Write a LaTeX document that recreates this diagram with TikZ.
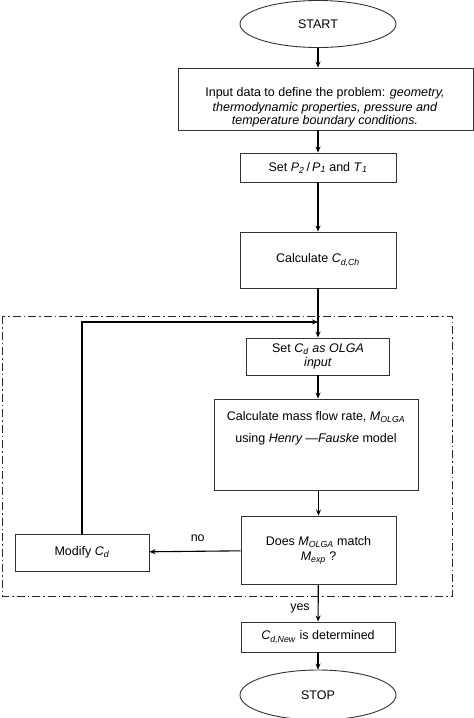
\documentclass[tikz,border=0pt]{standalone}
\usepackage{fontspec}
\setmainfont{Liberation Sans}
\usetikzlibrary{arrows.meta,shapes.geometric}
\newcommand{\vsub}[2]{\textit{#1}\textsubscript{\textit{#2}}}
\begin{document}
\begin{tikzpicture}[x=1pt,y=-1pt,
  every node/.style={font=\fontsize{12.5}{15}\selectfont},
  box/.style={draw=black!80, line width=0.9pt, align=center, inner sep=0pt},
  term/.style={draw=black!80, line width=0.9pt, ellipse, inner sep=0pt, minimum width=156pt, minimum height=47pt},
  conn/.style={line width=1.1pt, -{Stealth[length=6pt,width=5pt]}},
  frame/.style={line width=1pt, draw=black!85, dash pattern=on 8pt off 3pt on 1.5pt off 3pt},
  lbl/.style={inner sep=0pt}
]
\useasboundingbox (0,0) rectangle (474,718);
\fill[white] (0,0) rectangle (474,718);

\node[term] (start) at (318,24) {START};
\node[box, minimum width=295pt, minimum height=62pt] (input) at (325.5,99) {};
\node[lbl, align=center] (inputtxt) at (325,107) {Input data to define the problem: \textit{geometry,}\\[0pt] \textit{thermodynamic properties, pressure and}\\[-2pt] \textit{temperature boundary conditions.}};
\node[box, minimum width=156pt, minimum height=29pt] (setp) at (318,167.5) {Set \vsub{P}{2}\,/\,\vsub{P}{1} and \vsub{T}{1}};
\node[box, minimum width=156pt, minimum height=56pt] (calc) at (318,260) {Calculate \vsub{C}{d,Ch}};

\draw[frame] (2,316) rectangle (452,596);

\node[box, minimum width=143pt, minimum height=37pt] (setcd) at (318,356.5) {Set \vsub{C}{d} \textit{as OLGA}\\[-1pt] \textit{input}};
\node[box, minimum width=204pt, minimum height=91pt] (mass) at (316,444.5) {};
\node[lbl, align=center] (masstxt) at (316,428.5) {Calculate mass flow rate, \textit{M}\textsubscript{\textit{OLGA}}\\[7pt] using \textit{Henry —Fauske} model};
\node[box, minimum width=155pt, minimum height=68pt] (does) at (318.5,550) {Does \textit{M}\textsubscript{\textit{OLGA}} match\\[0pt] \textit{M}\textsubscript{\textit{exp}} ?};
\node[box, minimum width=134pt, minimum height=37pt] (modify) at (82,552.5) {Modify \vsub{C}{d}};

\node[box, minimum width=154pt, minimum height=30pt] (cdnew) at (318,637) {\vsub{C}{d,New} is determined};
\node[term, minimum height=50pt] (stop) at (318,695) {STOP};

\coordinate (join) at (318,322);
\coordinate (fb) at (82,322);

\draw[conn] (start) -- (input.north -| start);
\draw[conn] (input.south -| start) -- (setp);
\draw[conn] (setp) -- (calc);
\draw[conn] (calc) -- (setcd);
\draw[conn] (modify.north) -- (fb) -- (join);
\draw[conn] (setcd) -- (setcd |- mass.north);
\draw[conn] (mass.south -| does) -- (does);
\draw[conn] (does) -- node[lbl, above=9pt, pos=0.47] (no) {no} (modify);
\draw[conn] (does) -- (cdnew);
\draw[conn] (cdnew) -- (stop);
\node[lbl] (yes) at (300,608) {yes};
\end{tikzpicture}
\end{document}
